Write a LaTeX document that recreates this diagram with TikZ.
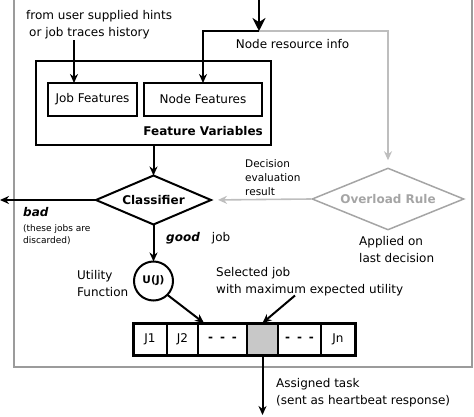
\documentclass[tikz,border=0pt]{standalone}
\usepackage{fontspec}
\setmainfont{DejaVu Sans}
\usetikzlibrary{positioning,shapes.geometric,arrows.meta}
\definecolor{framegray}{RGB}{155,155,155}
\definecolor{rulegray}{RGB}{165,165,165}
\definecolor{feedgray}{RGB}{190,190,190}
\definecolor{cellgray}{RGB}{200,200,200}
\tikzset{
    box/.style = {draw, line width=2pt, outer sep=0pt, inner sep=0pt},
    cell/.style = {box, minimum height=32pt, fill=white},
    flow/.style = {line width=2pt, -{Stealth[length=9pt,width=8pt]}},
    bigflow/.style = {line width=2.8pt, -{Stealth[length=13pt,width=13pt]}},
    feed/.style = {line width=1.6pt, color=feedgray, -{Stealth[length=9pt,width=8pt]}},
    note/.style = {align=left, inner sep=0pt},
    boldtext/.style = {font=\fontsize{12}{17}\selectfont\bfseries},
    smalltext/.style = {font=\fontsize{9}{12}\selectfont},
    midtext/.style = {font=\fontsize{10.5}{14}\selectfont}
}
\newcommand{\gapdashes}{\textbf{-\hspace{7pt}-\hspace{7pt}-}}
\begin{document}
\begin{tikzpicture}[x=1pt, y=-1pt, font=\fontsize{12}{17}\selectfont]
        \useasboundingbox (0,0) rectangle (474,417);
        \draw[line width=2pt, color=framegray] (14,-10) rectangle (472,367);
        \coordinate (input) at (259,-4);
        \coordinate (split) at (259,31);
        \coordinate (discard) at (0,200);
        \coordinate (output) at (262.5,415);
        \node[style = note, anchor=west] (hints) at (26,24.5) {from user supplied hints\\\hspace{3pt}or job traces history};
        \node[style = box, minimum width=235pt, minimum height=84pt] (featvar) at (153.5,103) {};
        \node[style = box, minimum width=89pt, minimum height=33pt] (jobf) at (92.5,99.5) {Job Features};
        \node[style = box, minimum width=118pt, minimum height=33pt] (nodef) at (203,99.5) {Node Features};
        \node[style = boldtext, anchor=base east, inner sep=0pt] (featlabel) at ([xshift=-8pt,yshift=9.5pt]featvar.south east) {Feature Variables};
        \node[inner sep=0pt] (resinfo) at (292.5,44) {Node resource info};
        \node[style = box, style = boldtext, diamond, aspect=2.3, minimum width=115pt, minimum height=49pt] (classifier) at (153.5,200) {Classifier};
        \node[style = boldtext, diamond, draw=rulegray, text=rulegray, line width=1.5pt, inner sep=0pt, aspect=2.45, minimum width=152pt, minimum height=62pt] (overload) at (388,199) {Overload Rule};
        \node[style = note, style = midtext, anchor=west] (decision) at (245,178) {Decision\\evaluation\\result};
        \node[style = note, anchor=west] (applied) at (359,249.5) {Applied on\\last decision};
        \node[style = boldtext, anchor=west, inner sep=0pt] (bad) at (23,212) {\itshape bad};
        \node[style = note, style = smalltext, anchor=west] (discarded) at (23,235) {(these jobs are\\discarded)};
        \node[anchor=west, inner sep=0pt] (good) at (166,238) {\textbf{\itshape good}\hspace{12pt}job};
        \node[style = box, circle, minimum size=39pt, font=\fontsize{10.5}{12}\selectfont\bfseries] (utility) at (153.5,281) {U(J)};
        \node[style = note, anchor=west] (utilfun) at (77,284) {Utility\\Function};
        \node[style = note, anchor=west] (selected) at (216,282) {Selected job\\with maximum expected utility};
        \node[style = cell, minimum width=34pt] (j1) at (150,339) {J1};
        \node[style = cell, minimum width=31pt, right=0pt of j1] (j2) {J2};
        \node[style = cell, minimum width=49pt, right=0pt of j2] (gap1) {\gapdashes};
        \node[style = cell, minimum width=31pt, right=0pt of gap1, fill=cellgray] (chosen) {};
        \node[style = cell, minimum width=43pt, right=0pt of chosen] (gap2) {\gapdashes};
        \node[style = cell, minimum width=34pt, right=0pt of gap2] (jn) {Jn};
        \draw[line width=3pt] (j1.north west) rectangle (jn.south east);
        \node[style = note, anchor=west] (assigned) at (276,392.5) {Assigned task\\(sent as heartbeat response)};
        \coordinate (hintfoot) at ([xshift=48pt,yshift=-1pt]hints.south west);
        \coordinate (selfoot) at ([xshift=79pt,yshift=1pt]selected.south west);
        \draw[style = feed, shorten >=7pt] (split) -| (overload.north);
        \draw[style = feed, shorten >=7pt] (overload.west) -- (classifier.east);
        \draw[style = flow] (split) -| (nodef.north);
        \draw[style = flow] (hintfoot) -- (hintfoot |- jobf.north);
        \draw[style = flow] (featvar.south) -- (classifier.north);
        \draw[style = flow] (classifier.west) -- (discard);
        \draw[style = flow] (classifier.south) -- (utility.north);
        \draw[style = flow] (utility.south east) -- ([xshift=6pt]gap1.north west);
        \draw[style = flow] (selfoot) -- (chosen.north);
        \draw[style = flow] (chosen.south) -- (output);
        \draw[style = bigflow] (input) -- (split);
    \end{tikzpicture}
\end{document}
